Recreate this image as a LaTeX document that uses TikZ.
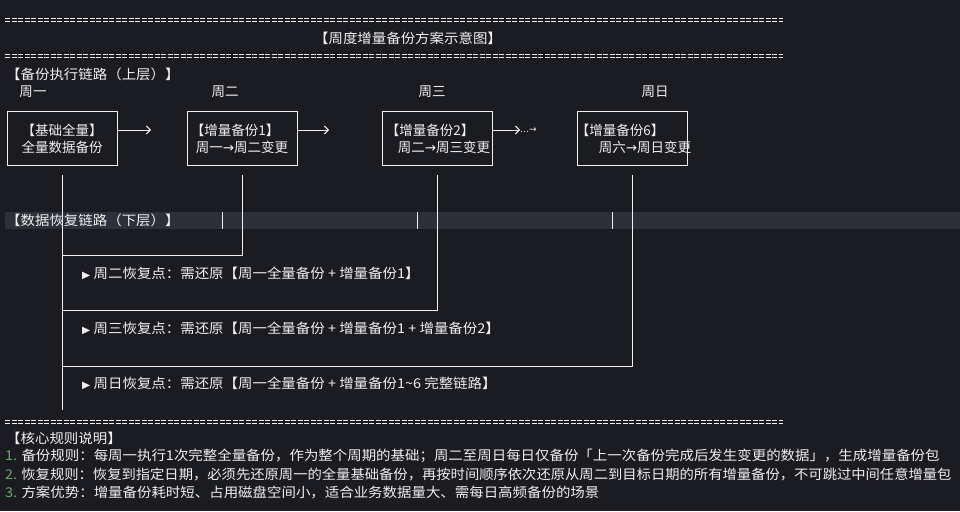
\documentclass[tikz,border=0pt]{standalone}
\usepackage{fontspec}
\setmainfont{Noto Sans CJK SC}
\newfontfamily\dv{DejaVu Sans}
\usetikzlibrary{arrows.meta}
\definecolor{bg}{HTML}{1B1C22}
\definecolor{band}{HTML}{2D3039}
\definecolor{fg}{HTML}{F0F0F0}
\definecolor{num}{HTML}{6FA56F}
\newcommand{\sx}[1]{\scalebox{1.07}[1]{#1}}
\begin{document}
\begin{tikzpicture}[x=1pt,y=-1pt,
  txt/.style={text=fg,font=\fontsize{13.5}{15}\selectfont,inner sep=0pt,anchor=west},
  ctxt/.style={text=fg,font=\fontsize{13.5}{15}\selectfont,inner sep=0pt},
  ln/.style={draw=fg,line width=0.9pt},
  eq/.style={draw=fg!85,line width=1pt,dash pattern=on 5pt off 1.5pt},
  boxs/.style={draw=fg,line width=1pt,minimum width=110pt,minimum height=54pt,inner sep=0pt}]
\fill[bg] (0,0) rectangle (960,511);
\useasboundingbox (0,0) rectangle (960,511);
\fill[band] (5,212) rectangle (960,229);
% equals rules
\foreach \y in {20,56,422}{\draw[eq] (5,\y-1.5) -- (783,\y-1.5); \draw[eq] (5,\y+1.5) -- (783,\y+1.5);}
\node[ctxt] (title) at (408,38) {\sx{【周度增量备份方案示意图】}};
\node[txt] (up) at (6,74) {\sx{【备份执行链路（上层）】}};
\node[ctxt] (d1) at (33,92) {周一};
\node[ctxt] (d2) at (225,92) {周二};
\node[ctxt] (d3) at (432,92) {周三};
\node[ctxt] (d7) at (655,92) {周日};
% boxes
\node[boxs] (b1) at (62,138.5) {};
\node[boxs] (b2) at (242,138.5) {};
\node[boxs] (b3) at (437,138.5) {};
\node[boxs] (b4) at (632,138.5) {};
\node[ctxt] (b1a) at (62,130) {【基础全量】};
\node[ctxt] (b1b) at (62,147) {全量数据备份};
\node[ctxt] (b2a) at (235,130) {【增量备份1】};
\node[ctxt] (b2b) at (242,147) {周一{\dv→}周二变更};
\node[ctxt] (b3a) at (430,130) {【增量备份2】};
\node[ctxt] (b3b) at (444,147) {周二{\dv→}周三变更};
\node[ctxt] (b4a) at (620,130) {【增量备份6】};
\node[ctxt] (b4b) at (645,147) {周六{\dv→}周日变更};
% arrows
\coordinate (a1) at (151,130);
\coordinate (a2) at (329,130);
\coordinate (a3) at (520,130);
\draw[ln,-{Straight Barb[length=4pt]}] (b1.east |- a1) -- (a1);
\draw[ln,-{Straight Barb[length=4pt]}] (b2.east |- a2) -- (a2);
\draw[ln,-{Straight Barb[length=4pt]}] (b3.east |- a3) -- (a3);
\node[txt] (dots) at (520,130) {\dv\fontsize{9}{10}\selectfont …→};
% lower label
\node[txt] (low) at (6,220) {\sx{【数据恢复链路（下层）】}};
% stray ticks in band
\foreach \x in {222,417,612}{\draw[ln] (\x,212) -- (\x,229);}
% vertical chains
\coordinate (c1) at (62,410);
\coordinate (h2) at (62,255);
\coordinate (h3) at (62,310);
\coordinate (h7) at (62,366);
\draw[ln] (b1.south) ++(0,9) -- (c1);
\draw[ln] (b2.south) ++(0,9) |- (h2);
\draw[ln] (b3.south) ++(0,9) |- (h3);
\draw[ln] (b4.south) ++(0,9) |- (h7);
% restore points
\node[txt] (r2) at (82,273) {\sx{{\dv\fontsize{10}{12}\selectfont ▶} 周二恢复点：需还原【周一全量备份 + 增量备份1】}};
\node[txt] (r3) at (82,328) {\sx{{\dv\fontsize{10}{12}\selectfont ▶} 周三恢复点：需还原【周一全量备份 + 增量备份1 + 增量备份2】}};
\node[txt] (r7) at (82,383) {\sx{{\dv\fontsize{10}{12}\selectfont ▶} 周日恢复点：需还原【周一全量备份 + 增量备份1\textasciitilde 6 完整链路】}};
% rules
\node[txt] (core) at (6,438) {\sx{【核心规则说明】}};
\node[txt] (l1) at (5,456) {\sx{\textcolor{num}{1.} 备份规则：每周一执行1次完整全量备份，作为整个周期的基础；周二至周日每日仅备份「上一次备份完成后发生变更的数据」，生成增量备份包}};
\node[txt] (l2) at (5,474) {\scalebox{1.06}[1]{\textcolor{num}{2.} 恢复规则：恢复到指定日期，必须先还原周一的全量基础备份，再按时间顺序依次还原从周二到目标日期的所有增量备份，不可跳过中间任意增量包}};
\node[txt] (l3) at (5,492) {\sx{\textcolor{num}{3.} 方案优势：增量备份耗时短、占用磁盘空间小，适合业务数据量大、需每日高频备份的场景}};
\end{tikzpicture}
\end{document}
